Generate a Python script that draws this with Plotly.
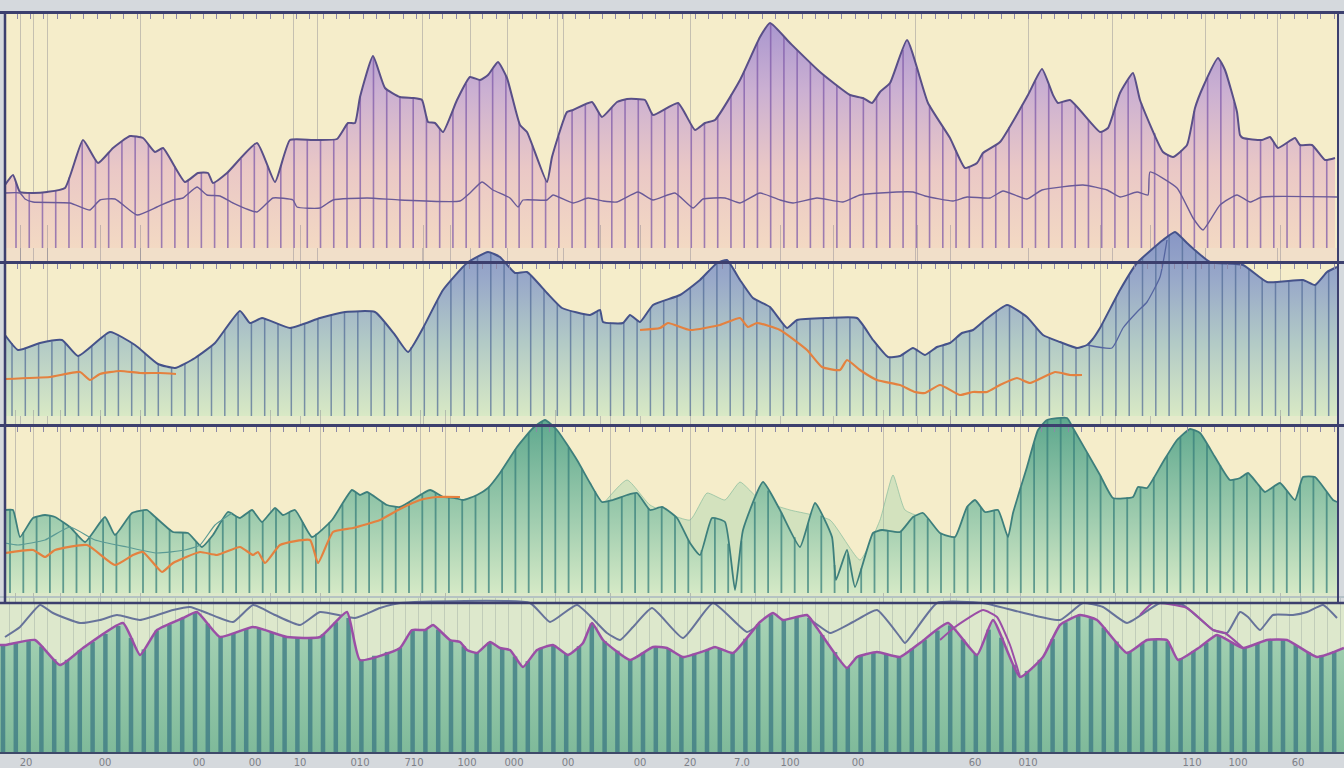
import numpy as np
import plotly.graph_objects as go

# ---------------- data ----------------
# Panel 1 (purple band)
t_p1 = [5, 13, 20, 33, 47, 65, 83, 98, 113, 130, 143, 155, 163, 185, 198, 208, 213, 227, 257, 275,
        290, 313, 337, 348, 355, 360, 373, 385, 400, 413, 422, 428, 435, 443, 457, 470, 480, 488, 498, 507,
        520, 527, 547, 552, 567, 573, 592, 602, 617, 627, 645, 653, 678, 695, 705, 715, 740, 760, 770, 790,
        820, 850, 863, 872, 880, 890, 907, 928, 950, 965, 977, 983, 1000, 1028, 1042, 1053, 1058, 1070, 1100, 1108,
        1120, 1133, 1140, 1163, 1173, 1187, 1195, 1203, 1218, 1225, 1237, 1240, 1243, 1262, 1270, 1278, 1295, 1300, 1312, 1325,
        1335]
v_p1 = [63, 73, 56, 55, 56, 60, 108, 85, 100, 112, 110, 96, 100, 66, 75, 75, 65, 75, 105, 66,
        108, 108, 109, 125, 125, 151, 192, 160, 151, 150, 148, 126, 125, 116, 148, 171, 168, 173, 186, 170,
        123, 116, 66, 91, 136, 138, 146, 131, 146, 149, 148, 133, 145, 118, 125, 128, 168, 211, 225, 205,
        176, 153, 150, 145, 156, 165, 208, 145, 110, 80, 85, 95, 106, 153, 179, 153, 145, 148, 116, 120,
        155, 175, 148, 96, 91, 103, 140, 161, 190, 178, 136, 113, 110, 108, 111, 100, 110, 103, 103, 88,
        90]
t_p1b = [5, 20, 25, 33, 70, 90, 100, 115, 137, 157, 173, 183, 197, 207, 220, 233, 257, 273, 293, 297,
         320, 333, 367, 400, 460, 470, 482, 493, 510, 518, 523, 547, 553, 573, 588, 603, 617, 638, 653, 675,
         693, 703, 725, 740, 760, 780, 793, 817, 843, 860, 880, 913, 925, 953, 967, 990, 1003, 1027, 1042, 1083,
         1107, 1120, 1137, 1148, 1150, 1177, 1193, 1203, 1220, 1237, 1250, 1262, 1337]
v_p1b = [55, 55, 49, 46, 45, 38, 48, 49, 33, 41, 48, 50, 61, 53, 52, 45, 36, 50, 48, 41,
         40, 48, 50, 48, 47, 55, 66, 58, 50, 41, 48, 48, 53, 45, 50, 47, 46, 56, 48, 55,
         40, 49, 50, 45, 55, 48, 45, 50, 46, 53, 55, 56, 52, 47, 51, 50, 57, 49, 58, 63,
         58, 51, 56, 53, 76, 60, 30, 18, 43, 53, 46, 51, 51]

# Panel 2 (blue / green band)
t_p2 = [5, 18, 40, 62, 78, 110, 135, 158, 175, 195, 215, 240, 250, 262, 290, 320, 345, 375, 395, 408,
        423, 443, 467, 488, 500, 515, 527, 547, 562, 590, 600, 603, 623, 630, 640, 653, 680, 700, 717, 727,
        740, 753, 770, 787, 797, 827, 857, 873, 888, 900, 913, 925, 937, 950, 962, 973, 985, 1007, 1027, 1043,
        1060, 1077, 1087, 1092, 1100, 1120, 1137, 1163, 1175, 1187, 1210, 1243, 1267, 1303, 1315, 1327, 1337]
v_p2 = [81, 66, 73, 76, 60, 84, 71, 52, 48, 58, 73, 105, 93, 98, 88, 98, 104, 104, 81, 64,
        88, 126, 153, 164, 159, 143, 144, 123, 108, 101, 106, 94, 93, 101, 94, 111, 121, 136, 153, 156,
        136, 118, 109, 88, 96, 98, 98, 76, 59, 60, 68, 61, 69, 73, 83, 86, 96, 111, 99, 81,
        74, 68, 71, 76, 88, 126, 153, 176, 184, 173, 154, 151, 134, 136, 131, 144, 149]
t_p2b = [1087, 1112, 1123, 1137, 1147, 1160, 1167]
v_p2b = [71, 68, 88, 104, 114, 139, 176]
t_p2o = [5, 50, 80, 90, 100, 120, 140, 160, 176, None,
         640, 660, 668, 690, 720, 740, 748, 757, 780, 807, 822, 840, 847, 860, 877, 900,
         915, 925, 940, 960, 973, 987, 1000, 1017, 1030, 1055, 1070, 1082]
v_p2o = [37, 39, 44, 36, 42, 45, 43, 43, 42, None,
         86, 88, 93, 86, 91, 98, 89, 93, 86, 66, 49, 46, 56, 46, 36, 31,
         24, 23, 31, 21, 24, 24, 31, 38, 33, 44, 41, 41]

# Panel 3 (green band)
t_p3 = [5, 13, 20, 33, 45, 55, 70, 85, 105, 115, 132, 147, 153, 173, 188, 202, 213, 228, 240, 252,
        262, 275, 283, 295, 312, 332, 352, 360, 367, 387, 400, 430, 443, 455, 463, 477, 488, 500, 517, 533,
        545, 557, 577, 590, 602, 613, 627, 637, 650, 662, 677, 690, 700, 712, 725, 735, 743, 763, 780, 800,
        815, 832, 836, 847, 855, 873, 882, 900, 913, 923, 940, 955, 967, 975, 985, 998, 1008, 1013, 1027, 1038,
        1047, 1067, 1073, 1100, 1113, 1133, 1138, 1147, 1163, 1177, 1190, 1200, 1215, 1230, 1240, 1248, 1257, 1265, 1280, 1295,
        1303, 1315, 1333, 1337]
v_p3 = [83, 83, 56, 75, 78, 76, 66, 51, 76, 58, 80, 83, 78, 61, 60, 46, 58, 81, 75, 83,
        71, 85, 78, 83, 56, 73, 103, 98, 101, 88, 86, 103, 96, 95, 93, 98, 105, 120, 146, 165,
        173, 163, 133, 110, 91, 93, 98, 100, 83, 86, 75, 50, 38, 75, 71, 3, 63, 111, 83, 46,
        90, 56, 13, 43, 6, 60, 63, 61, 76, 80, 60, 56, 86, 93, 81, 83, 56, 80, 126, 163,
        173, 175, 165, 118, 95, 96, 106, 105, 131, 153, 164, 160, 136, 113, 115, 120, 110, 101, 110, 93,
        116, 116, 93, 91]
t_p3g = [590, 627, 650, 690, 707, 725, 740, 760, 790, 830, 860, 880, 893, 905, 930]
v_p3g = [73, 113, 88, 73, 100, 93, 111, 93, 83, 73, 33, 73, 118, 83, 73]
t_p3b = [5, 18, 45, 70, 95, 127, 157, 185, 200, 215, 232]
v_p3b = [50, 48, 53, 66, 53, 46, 40, 43, 48, 68, 80]
t_p3o = [5, 33, 45, 55, 87, 115, 133, 143, 162, 173, 200, 217, 240, 253, 258, 265, 280, 310, 318, 333,
         353, 380, 400, 420, 437, 460]
v_p3o = [40, 43, 36, 43, 48, 28, 38, 41, 21, 30, 41, 38, 46, 38, 41, 30, 48, 53, 30, 61,
         65, 73, 84, 93, 96, 96]

# Panel 4 (bars + waves)
t_p4 = [0, 5, 35, 60, 83, 123, 140, 157, 183, 197, 220, 253, 287, 320, 347, 360, 400, 412, 425, 433,
        450, 460, 467, 477, 490, 500, 510, 523, 537, 553, 568, 583, 592, 603, 630, 653, 667, 683, 707, 715,
        733, 760, 773, 783, 807, 817, 847, 857, 877, 900, 920, 948, 977, 993, 1020, 1043, 1060, 1080, 1097, 1127,
        1147, 1167, 1178, 1200, 1217, 1243, 1267, 1287, 1317, 1344]
v_p4 = [107, 107, 112, 87, 104, 129, 97, 122, 134, 140, 115, 125, 115, 115, 140, 92, 104, 122, 122, 127,
        112, 110, 102, 99, 110, 104, 102, 85, 102, 107, 97, 109, 129, 112, 92, 105, 104, 95, 102, 105,
        99, 130, 139, 132, 137, 124, 84, 95, 100, 95, 109, 129, 97, 132, 75, 95, 127, 137, 132, 99,
        112, 112, 92, 105, 117, 104, 112, 112, 95, 104]
t_p4b = [940, 955, 983, 997, 1010, 1020, None, 1140, 1153, 1187, 1213, 1225, 1243]
v_p4b = [112, 125, 142, 135, 107, 75, None, 137, 149, 144, 122, 119, 104]
t_p4g = [5, 20, 40, 53, 80, 100, 117, 140, 173, 190, 207, 233, 253, 275, 300, 320, 355, 380, 400, 530,
         550, 577, 607, 620, 633, 652, 683, 713, 747, 763, 787, 810, 830, 853, 877, 900, 905, 937, 983, 1020,
         1060, 1083, 1103, 1127, 1160, 1183, 1213, 1227, 1240, 1248, 1260, 1273, 1293, 1307, 1323, 1337]
v_p4g = [115, 125, 147, 139, 129, 132, 137, 132, 142, 145, 139, 130, 147, 137, 127, 140, 134, 144, 149, 149,
         130, 147, 119, 112, 125, 144, 114, 149, 120, 129, 130, 132, 119, 130, 142, 115, 109, 149, 149, 140,
         132, 149, 145, 129, 149, 147, 122, 119, 140, 135, 122, 137, 137, 140, 147, 134]

# background grid lines and bottom tick labels
grid_top = [20, 33, 47, 140, 293, 317, 422, 470, 507, 557, 563, 690, 915, 1028, 1112, 1205, 1277]
grid_mid = [20, 47, 100, 140, 300, 423, 450, 600, 640, 780, 833, 917, 950, 1100, 1150, 1280]
grid_low = [15, 33, 60, 100, 140, 270, 320, 420, 445, 555, 610, 690, 755, 883, 950, 1020, 1115, 1280, 1300]
label_t = [26, 105, 199, 255, 300, 360, 414, 467, 514, 568, 640, 690, 742, 790, 858, 975, 1028, 1192, 1238, 1298]
label_text = ["20", "00", "00", "00", "10", "010", "710", "100", "000", "00",
              "00", "20", "7.0", "100", "00", "60", "010", "110", "100", "60"]

# ---------------- helpers ----------------
W, H = 1344, 768
SMOOTH = 0.45


def py(p):
    return 1 - p / H


def stripes(pos, tx, vy):
    xs, ys = [], []
    for s in pos:
        if tx[0] <= s <= tx[-1]:
            xs += [s, s, None]
            ys += [0, float(np.interp(s, tx, vy)), None]
    return xs, ys


fig = go.Figure()


def axes(k):
    return ("x", "y") if k == 1 else (f"x{k}", f"y{k}")


def add_panel(k, tx, vy, grad, stripe_pos, stripe_color, stripe_w, line_color, line_w):
    xa, ya = axes(k)
    fig.add_trace(go.Scatter(x=tx, y=vy, xaxis=xa, yaxis=ya, mode="lines",
                             line=dict(width=0, shape="spline", smoothing=SMOOTH),
                             fill="tozeroy", fillgradient=grad, hoverinfo="skip"))
    sx, sy = stripes(stripe_pos, tx, vy)
    fig.add_trace(go.Scatter(x=sx, y=sy, xaxis=xa, yaxis=ya, mode="lines",
                             line=dict(color=stripe_color, width=stripe_w), hoverinfo="skip"))
    fig.add_trace(go.Scatter(x=tx, y=vy, xaxis=xa, yaxis=ya, mode="lines",
                             line=dict(color=line_color, width=line_w, shape="spline", smoothing=SMOOTH),
                             hoverinfo="skip"))


def add_line(k, tx, vy, color, width):
    xa, ya = axes(k)
    fig.add_trace(go.Scatter(x=tx, y=vy, xaxis=xa, yaxis=ya, mode="lines",
                             line=dict(color=color, width=width, shape="spline", smoothing=SMOOTH),
                             hoverinfo="skip"))


# panel 1
add_panel(1, t_p1, v_p1,
          dict(type="vertical", start=0, stop=225,
               colorscale=[[0, "#f3d9c3"], [0.35, "#eac8c6"], [0.7, "#cbb0d2"], [1, "#aa97cf"]]),
          np.arange(16, 1336, 13.24), "rgba(128,92,170,0.75)", 1.6, "#594f88", 2)
add_line(1, t_p1b, v_p1b, "#6a5a98", 1.4)

# panel 2
add_panel(2, t_p2, v_p2,
          dict(type="vertical", start=0, stop=184,
               colorscale=[[0, "#d8e9c5"], [0.4, "#b2cac6"], [0.75, "#98a8c9"], [1, "#8896c5"]]),
          np.arange(12, 1336, 13.3), "rgba(80,105,150,0.7)", 1.5, "#45528a", 2)
add_line(2, t_p2b, v_p2b, "#5565a0", 1.3)
add_line(2, t_p2o, v_p2o, "#e4813f", 2.2)

# panel 3
fig.add_trace(go.Scatter(x=t_p3g, y=v_p3g, xaxis="x3", yaxis="y3", mode="lines",
                         line=dict(color="rgba(120,180,150,0.6)", width=1, shape="spline", smoothing=SMOOTH),
                         fill="tozeroy", fillcolor="rgba(150,205,170,0.35)", hoverinfo="skip"))
add_panel(3, t_p3, v_p3,
          dict(type="vertical", start=0, stop=175,
               colorscale=[[0, "#d4e9c6"], [0.4, "#a2ceb0"], [1, "#5ea88e"]]),
          np.arange(10, 1336, 13.3), "rgba(58,128,124,0.75)", 1.8, "#3d7f7c", 1.8)
add_line(3, t_p3b, v_p3b, "#5a9a94", 1.2)
add_line(3, t_p3o, v_p3o, "#e4813f", 2.2)

# panel 4
add_line(4, t_p4g, v_p4g, "#67739a", 2)
add_panel(4, t_p4, v_p4,
          dict(type="vertical", start=0, stop=150,
               colorscale=[[0, "#7fba9a"], [1, "#acd6b8"]]),
          np.arange(3, 1344, 12.8), "rgba(62,124,132,0.8)", 4.5, "#9b4ea6", 2.5)
add_line(4, t_p4b, v_p4b, "#9b4ea6", 2)

# ---------------- layout ----------------
axis_common = dict(range=[0, W], showgrid=False, zeroline=False, fixedrange=True)
top_ticks = dict(ticks="inside", ticklen=5, tickwidth=1, tickcolor="#8c88a8",
                 tickmode="linear", tick0=4, dtick=13.3, showticklabels=False,
                 showline=True, linecolor="#3c3f6e", linewidth=2.5, side="top")


def minor_grid(vals, color="rgba(110,110,130,0.35)"):
    return dict(tickmode="array", tickvals=vals, showgrid=True, gridcolor=color, gridwidth=1, ticks="")


fig.update_layout(
    width=W, height=H, margin=dict(l=0, r=0, t=0, b=0),
    paper_bgcolor="#d5d9dd", plot_bgcolor="rgba(0,0,0,0)", showlegend=False,
    xaxis=dict(domain=[0, 1], anchor="y", **axis_common, **top_ticks, minor=minor_grid(grid_top)),
    yaxis=dict(domain=[py(262), py(14)], range=[-14, 234], visible=False, fixedrange=True),
    xaxis2=dict(domain=[0, 1], anchor="free", position=py(262), **axis_common, **top_ticks,
                minor=minor_grid(grid_mid)),
    yaxis2=dict(domain=[py(425), py(225)], range=[-9, 191], visible=False, fixedrange=True),
    xaxis3=dict(domain=[0, 1], anchor="free", position=py(425), **axis_common, **top_ticks,
                minor=minor_grid(grid_low)),
    yaxis3=dict(domain=[py(603), py(410)], range=[-10, 183], visible=False, fixedrange=True),
    xaxis4=dict(domain=[0, 1], anchor="y4", **axis_common, side="bottom",
                showline=True, linecolor="#3e4a6a", linewidth=1.5,
                tickmode="array", tickvals=label_t, ticktext=label_text, ticks="",
                tickfont=dict(family="DejaVu Sans", size=10, color="#7d8088"),
                minor=dict(tickmode="linear", tick0=9, dtick=12.8, showgrid=True,
                           gridcolor="rgba(140,155,150,0.35)", gridwidth=1, ticks="")),
    yaxis4=dict(domain=[py(752), py(598)], range=[0, 154], visible=False, fixedrange=True),
)

shapes = []
# backgrounds
shapes.append(dict(type="rect", xref="paper", yref="paper", x0=5 / W, x1=1338 / W, y0=py(603), y1=py(14),
                   fillcolor="#f5edca", line=dict(width=0), layer="below"))
shapes.append(dict(type="rect", xref="paper", yref="paper", x0=5 / W, x1=1338 / W, y0=py(262), y1=py(248),
                   fillcolor="#f1dfc9", line=dict(width=0), layer="below"))
shapes.append(dict(type="rect", xref="paper", yref="paper", x0=5 / W, x1=1338 / W, y0=py(425), y1=py(416),
                   fillcolor="#e6eacb", line=dict(width=0), layer="below"))
shapes.append(dict(type="rect", xref="paper", yref="paper", x0=5 / W, x1=1338 / W, y0=py(603), y1=py(593),
                   fillcolor="#dbe8c9", line=dict(width=0), layer="below"))
shapes.append(dict(type="rect", xref="paper", yref="paper", x0=0, x1=1, y0=py(752), y1=py(603),
                   fillcolor="#dde8cc", line=dict(width=0), layer="below"))
# separators and borders
shapes.append(dict(type="line", xref="paper", yref="paper", x0=0, x1=1, y0=py(597), y1=py(597),
                   line=dict(color="#a9b7bf", width=1.5), layer="above"))
shapes.append(dict(type="line", xref="paper", yref="paper", x0=0, x1=1, y0=py(603), y1=py(603),
                   line=dict(color="#3c3f6e", width=2.5), layer="above"))
shapes.append(dict(type="line", xref="paper", yref="paper", x0=5 / W, x1=5 / W, y0=py(603), y1=py(14),
                   line=dict(color="#3c3f6e", width=2.5), layer="above"))
shapes.append(dict(type="line", xref="paper", yref="paper", x0=1338 / W, x1=1338 / W, y0=py(603), y1=py(14),
                   line=dict(color="#3c3f6e", width=2), layer="above"))
fig.update_layout(shapes=shapes)

fig.write_html("out.html", config={"displayModeBar": False},
               post_script="document.body.style.margin='0';document.body.style.overflow='hidden';")
